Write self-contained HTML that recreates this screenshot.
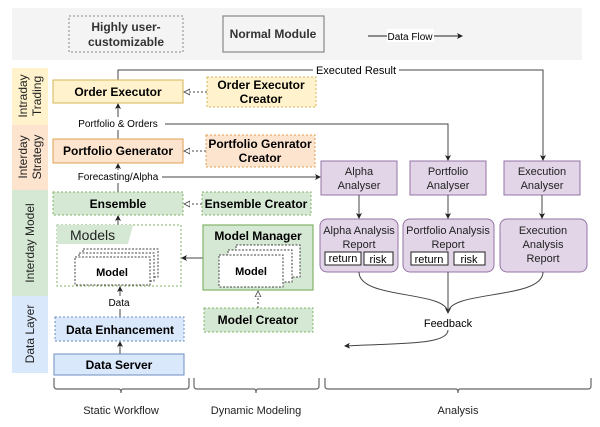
<!DOCTYPE html>
<html><head><meta charset="utf-8"><style>
html,body{margin:0;padding:0;background:#fff}
svg{display:block;font-family:"Liberation Sans",Arial,sans-serif}
</style></head><body>
<svg width="600" height="427" viewBox="0 0 600 427" xmlns="http://www.w3.org/2000/svg">
<defs>
<marker id="a" markerWidth="6" markerHeight="6" refX="5" refY="3" orient="auto" markerUnits="userSpaceOnUse"><path d="M0,0 L6,3 L0,6 L1.5,3 z" fill="#222"/></marker>
<marker id="o" markerWidth="7" markerHeight="7" refX="6" refY="3.5" orient="auto" markerUnits="userSpaceOnUse"><path d="M0,0.5 L6,3.5 L0,6.5 z" fill="#fff" stroke="#444" stroke-width="0.8"/></marker>
</defs>
<rect x="12" y="8" width="570" height="52" fill="#f4f4f4"/>
<rect x="69" y="16" width="114" height="36" fill="#f4f4f4" stroke="#888" stroke-dasharray="2,2"/>
<text x="126" y="31" font-size="12" font-weight="bold" text-anchor="middle" fill="#333">Highly user-</text>
<text x="126" y="46" font-size="12" font-weight="bold" text-anchor="middle" fill="#333">customizable</text>
<rect x="223" y="16" width="101" height="36" fill="#f4f4f4" stroke="#888" stroke-width="1.2"/>
<text x="273" y="38" font-size="12" font-weight="bold" text-anchor="middle" fill="#333">Normal Module</text>
<line x1="368" y1="36" x2="462" y2="36" stroke="#222" marker-end="url(#a)"/>
<rect x="387" y="29" width="47" height="13" fill="#fff"/>
<text x="410" y="40" font-size="10" text-anchor="middle">Data Flow</text>
<rect x="12" y="68" width="36" height="57" fill="#fff2cc"/>
<rect x="12" y="125" width="36" height="65" fill="#fde4cf"/>
<rect x="12" y="190" width="36" height="106" fill="#d5e8d4"/>
<rect x="12" y="296" width="36" height="77" fill="#dae8fc"/>
<g font-size="12" fill="#222" text-anchor="middle">
<text transform="translate(27,96) rotate(-90)">Intraday</text>
<text transform="translate(41,96) rotate(-90)">Trading</text>
<text transform="translate(27,157) rotate(-90)">Interday</text>
<text transform="translate(41,157) rotate(-90)">Strategy</text>
<text transform="translate(34,243) rotate(-90)">Interday Model</text>
<text transform="translate(34,334) rotate(-90)">Data Layer</text>
</g>
<polyline points="118,80 118,70 543,70 543,160" fill="none" stroke="#444" marker-end="url(#a)"/>
<rect x="313" y="64" width="86" height="12" fill="#fff"/>
<text x="356" y="74" font-size="11" text-anchor="middle">Executed Result</text>
<line x1="118" y1="139" x2="118" y2="104" stroke="#444" marker-end="url(#a)"/>
<polyline points="165,124 448,124 448,160" fill="none" stroke="#444" marker-end="url(#a)"/>
<rect x="74" y="117" width="88" height="13" fill="#fff"/>
<text x="118" y="127" font-size="10" text-anchor="middle">Portfolio &amp; Orders</text>
<line x1="118" y1="192" x2="118" y2="164" stroke="#444" marker-end="url(#a)"/>
<line x1="162" y1="177" x2="320" y2="177" stroke="#444" marker-end="url(#a)"/>
<rect x="75" y="170" width="86" height="13" fill="#fff"/>
<text x="118" y="180" font-size="10" text-anchor="middle">Forecasting/Alpha</text>
<line x1="118" y1="225" x2="118" y2="216" stroke="#444" marker-end="url(#a)"/>
<line x1="120" y1="317" x2="120" y2="287" stroke="#444" marker-end="url(#a)"/>
<rect x="105" y="296" width="30" height="13" fill="#fff"/>
<text x="119" y="306" font-size="10" text-anchor="middle">Data</text>
<line x1="120" y1="354" x2="120" y2="342" stroke="#444" marker-end="url(#a)"/>
<rect x="53" y="80" width="130" height="23" fill="#fff2cc" stroke="#d6b656"/>
<text x="118" y="96" font-size="12" font-weight="bold" text-anchor="middle">Order Executor</text>
<rect x="53" y="139" width="130" height="24" fill="#fde4cf" stroke="#e0a050"/>
<text x="118" y="155" font-size="12" font-weight="bold" text-anchor="middle">Portfolio Generator</text>
<rect x="53" y="192" width="130" height="23" fill="#d5e8d4" stroke="#82b366" stroke-dasharray="2,2"/>
<text x="118" y="208" font-size="12" font-weight="bold" text-anchor="middle">Ensemble</text>
<rect x="57" y="225" width="124" height="61" fill="#fff" stroke="#82b366" stroke-dasharray="2,2"/>
<path d="M57,225 L133,225 L128,244 L57,244 z" fill="#d5e8d4"/>
<text x="70" y="240" font-size="14" fill="#222">Models</text>
<rect x="83" y="249" width="75" height="28" fill="#fff" stroke="#444" stroke-dasharray="2,1.5"/>
<rect x="79" y="253" width="75" height="28" fill="#fff" stroke="#444" stroke-dasharray="2,1.5"/>
<rect x="75" y="257" width="75" height="28" fill="#fff" stroke="#444" stroke-dasharray="2,1.5"/>
<text x="112" y="276" font-size="11" font-weight="bold" text-anchor="middle">Model</text>
<rect x="55" y="317" width="129" height="24" fill="#dae8fc" stroke="#6c8ebf" stroke-dasharray="2,2"/>
<text x="120" y="334" font-size="12" font-weight="bold" text-anchor="middle">Data Enhancement</text>
<rect x="54" y="354" width="130" height="21" fill="#dae8fc" stroke="#6c8ebf"/>
<text x="119" y="369" font-size="12" font-weight="bold" text-anchor="middle">Data Server</text>
<line x1="207" y1="92" x2="184" y2="92" stroke="#444" stroke-dasharray="2,2" marker-end="url(#o)"/>
<rect x="207" y="77" width="109" height="30" fill="#fff2cc" stroke="#d6b656" stroke-dasharray="2,2"/>
<text x="261" y="89" font-size="12" font-weight="bold" text-anchor="middle">Order Executor</text>
<text x="261" y="103" font-size="12" font-weight="bold" text-anchor="middle">Creator</text>
<line x1="206" y1="151" x2="184" y2="151" stroke="#444" stroke-dasharray="2,2" marker-end="url(#o)"/>
<rect x="206" y="135" width="109" height="32" fill="#fde4cf" stroke="#e0a050" stroke-dasharray="2,2"/>
<text x="260" y="148" font-size="12" font-weight="bold" text-anchor="middle">Portfolio Genrator</text>
<text x="260" y="162" font-size="12" font-weight="bold" text-anchor="middle">Creator</text>
<line x1="202" y1="204" x2="184" y2="204" stroke="#444" stroke-dasharray="2,2" marker-end="url(#o)"/>
<rect x="202" y="192" width="109" height="23" fill="#d5e8d4" stroke="#82b366" stroke-dasharray="2,2"/>
<text x="256" y="208" font-size="12" font-weight="bold" text-anchor="middle">Ensemble Creator</text>
<line x1="203" y1="258" x2="182" y2="258" stroke="#444" marker-end="url(#a)"/>
<rect x="203" y="225" width="110" height="65" fill="#d5e8d4" stroke="#82b366" stroke-width="1.2"/>
<text x="258" y="240" font-size="12" font-weight="bold" text-anchor="middle">Model Manager</text>
<rect x="236" y="245" width="64" height="32" fill="#fff" stroke="#444" stroke-dasharray="2,1.5"/>
<rect x="228" y="250" width="64" height="32" fill="#fff" stroke="#444" stroke-dasharray="2,1.5"/>
<rect x="219" y="255" width="64" height="32" fill="#fff" stroke="#444" stroke-dasharray="2,1.5"/>
<text x="251" y="275" font-size="11" font-weight="bold" text-anchor="middle">Model</text>
<line x1="258" y1="308" x2="258" y2="291" stroke="#444" stroke-dasharray="2,2" marker-end="url(#o)"/>
<rect x="204" y="308" width="109" height="24" fill="#d5e8d4" stroke="#82b366" stroke-dasharray="2,2"/>
<text x="258" y="324" font-size="12" font-weight="bold" text-anchor="middle">Model Creator</text>
<g fill="#e1d5e7" stroke="#9673a6">
<rect x="321" y="161" width="76" height="34"/>
<rect x="410" y="161" width="76" height="34"/>
<rect x="504" y="161" width="76" height="34"/>
<rect x="320" y="219" width="78" height="53" rx="7"/>
<rect x="403" y="219" width="91" height="53" rx="7"/>
<rect x="500" y="219" width="87" height="53" rx="7"/>
</g>
<g font-size="11" text-anchor="middle" fill="#222">
<text x="359" y="175">Alpha</text><text x="359" y="189">Analyser</text>
<text x="448" y="175">Portfolio</text><text x="448" y="189">Analyser</text>
<text x="542" y="175">Execution</text><text x="542" y="189">Analyser</text>
<text x="359" y="234">Alpha Analysis</text><text x="359" y="248">Report</text>
<text x="448" y="234">Portfolio Analysis</text><text x="448" y="248">Report</text>
<text x="543" y="234">Execution</text><text x="543" y="248">Analysis</text><text x="543" y="262">Report</text>
</g>
<g fill="#fff" stroke="#222">
<rect x="325" y="252" width="36" height="13"/><rect x="364" y="252" width="29" height="13"/>
<rect x="411" y="252" width="37" height="13"/><rect x="454" y="252" width="31" height="13"/>
</g>
<g font-size="11" text-anchor="middle">
<text x="343" y="262">return</text><text x="378" y="263">risk</text>
<text x="429" y="263">return</text><text x="469" y="263">risk</text>
</g>
<g stroke="#444" fill="none">
<line x1="359" y1="195" x2="359" y2="218" marker-end="url(#a)"/>
<line x1="448" y1="195" x2="448" y2="218" marker-end="url(#a)"/>
<line x1="542" y1="195" x2="542" y2="218" marker-end="url(#a)"/>
<path d="M359,272 C359,300 448,290 448,313" marker-end="url(#a)"/>
<path d="M448,272 L448,313"/>
<path d="M543,272 C543,300 448,290 448,313"/>
<path d="M448,330 C448,345 400,343 345,346" marker-end="url(#a)"/>
</g>
<text x="448" y="327" font-size="11" text-anchor="middle">Feedback</text>
<g stroke="#666" fill="none" stroke-width="1.2">
<path d="M54,378 L54,386 Q54,389 57,389 L119,389 Q121,389 121,393 Q121,389 123,389 L186,389 Q189,389 189,386 L189,378"/>
<path d="M194,378 L194,386 Q194,389 197,389 L254,389 Q256,389 256,393 Q256,389 258,389 L316,389 Q319,389 319,386 L319,378"/>
<path d="M325,378 L325,386 Q325,389 328,389 L456,389 Q458,389 458,393 Q458,389 460,389 L588,389 Q591,389 591,386 L591,378"/>
</g>
<g font-size="11" text-anchor="middle" fill="#222">
<text x="121" y="414">Static Workflow</text>
<text x="256" y="414">Dynamic Modeling</text>
<text x="458" y="414">Analysis</text>
</g>
</svg>
</body></html>
